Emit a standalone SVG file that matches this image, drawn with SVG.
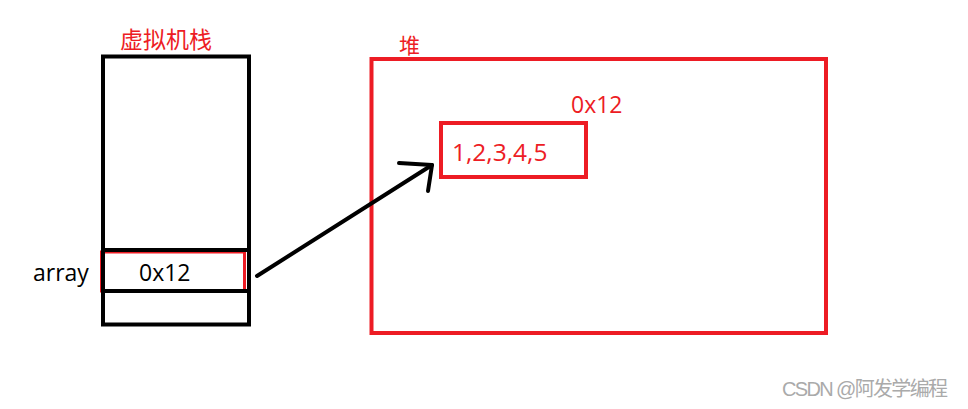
<svg xmlns="http://www.w3.org/2000/svg" width="968" height="409" viewBox="0 0 968 409">
<style>
text{font-family:"Open Sans","Noto Sans CJK SC",sans-serif;font-size:23px}
.cjk{font-family:"Noto Sans CJK SC",sans-serif}
.red{fill:#ed1c24}
.blk{fill:#000}
.wm{font-family:"Liberation Sans","Noto Sans CJK SC",sans-serif;font-size:20px;fill:#aaa}
.bbox{fill:none;stroke:#000;stroke-width:4}
.rbox{fill:none;stroke:#ed1c24;stroke-width:4}
.arrow{fill:none;stroke:#000;stroke-width:4;stroke-linecap:round;stroke-linejoin:round}
</style>
<rect width="968" height="409" fill="#fff"/>
<g id="stack">
<rect class="bbox" x="103" y="56.5" width="146" height="268"/>
<text class="cjk red" x="120" y="48" style="font-size:23px">虚拟机栈</text>
</g>
<g id="array-cell">
<rect fill="none" stroke="#ed1c24" stroke-width="2" x="101" y="251.5" width="144" height="40"/>
<rect class="bbox" x="103" y="250" width="146" height="41"/>
<rect fill="#ed1c24" x="243" y="252" width="3" height="37"/>
<rect fill="#ed1c24" x="105" y="252" width="138" height="1.5"/>
<text class="blk" x="33" y="281">array</text>
<text class="blk" x="139" y="281">0x12</text>
</g>
<g id="heap">
<rect class="rbox" x="371.5" y="59" width="454.5" height="274"/>
<text class="cjk red" x="399" y="53" style="font-size:21px">堆</text>
</g>
<g id="array-obj">
<rect class="rbox" x="441" y="123" width="145" height="54"/>
<text class="red" x="452" y="161" style="font-size:24.5px">1,2,3,4,5</text>
<text class="red" x="571" y="113">0x12</text>
</g>
<g id="connectors">
<path class="arrow" d="M257,276 L432,165"/>
<path class="arrow" d="M399,163 L432,165 L428,191"/>
</g>
<text class="wm" x="782" y="396" textLength="166">CSDN @阿发学编程</text>
</svg>
